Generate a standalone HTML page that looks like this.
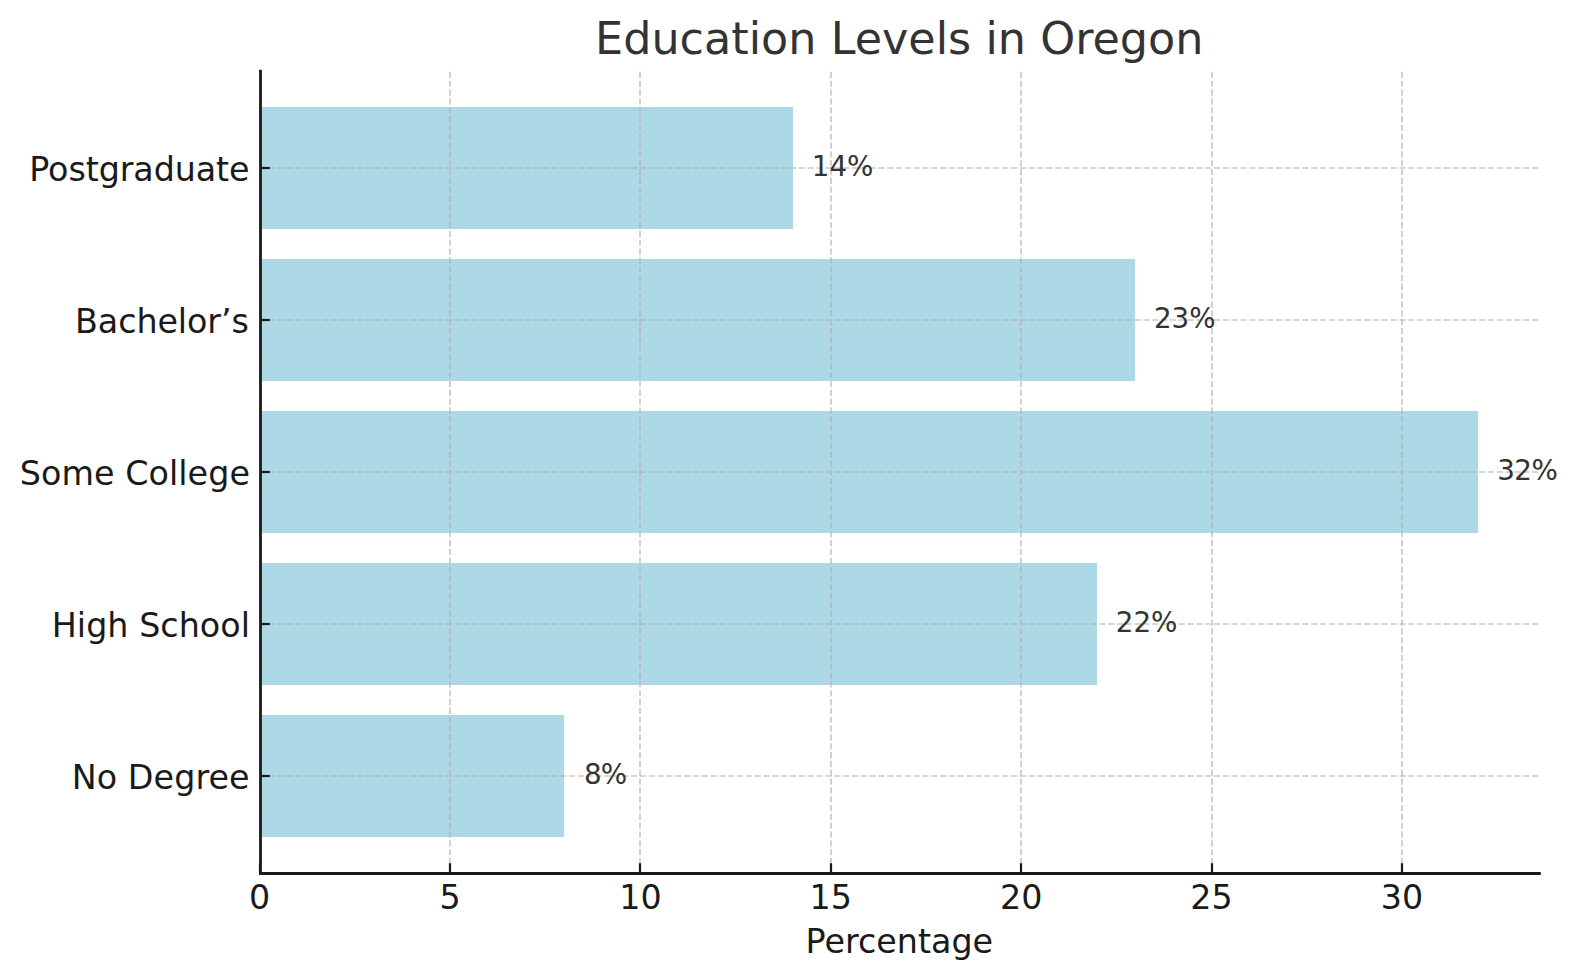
<!DOCTYPE html>
<html lang="en"><head><meta charset="utf-8"><title>Education Levels in Oregon</title>
<style>
html,body{margin:0;padding:0;background:#fff;}
body{width:1578px;height:980px;overflow:hidden;}
svg{display:block;}
text{font-family:"DejaVu Sans","Liberation Sans",sans-serif;}
.tick{font-size:33.33px;fill:#1a1a1a;}
.val{font-size:27.78px;fill:#333333;}
.title{font-size:44.44px;fill:#333333;}
</style></head><body>
<svg width="1578" height="980" viewBox="0 0 1578 980">
<rect width="1578" height="980" fill="#ffffff"/>
<g fill="#add8e6" shape-rendering="crispEdges">
<rect x="260" y="715" width="304" height="122"/>
<rect x="260" y="563" width="837" height="122"/>
<rect x="260" y="411" width="1218" height="122"/>
<rect x="260" y="259" width="875" height="122"/>
<rect x="260" y="107" width="533" height="122"/>
</g>
<g stroke="#b0b0b0" stroke-opacity="0.7" stroke-width="1.67" stroke-dasharray="6.1667 2.6667" fill="none">
<path d="M260 873V71"/>
<path d="M450 873V71"/>
<path d="M640 873V71"/>
<path d="M831 873V71"/>
<path d="M1021 873V71"/>
<path d="M1212 873V71"/>
<path d="M1402 873V71"/>
<path d="M260 776H1539"/>
<path d="M260 624H1539"/>
<path d="M260 472H1539"/>
<path d="M260 320H1539"/>
<path d="M260 168H1539"/>
</g>
<g stroke="#1a1a1a" stroke-width="2.22" fill="none">
<path d="M260 873v-9.72"/>
<path d="M450 873v-9.72"/>
<path d="M640 873v-9.72"/>
<path d="M831 873v-9.72"/>
<path d="M1021 873v-9.72"/>
<path d="M1212 873v-9.72"/>
<path d="M1402 873v-9.72"/>
<path d="M260 776h9.72"/>
<path d="M260 624h9.72"/>
<path d="M260 472h9.72"/>
<path d="M260 320h9.72"/>
<path d="M260 168h9.72"/>
</g>
<g stroke="#1a1a1a" stroke-width="2.78" fill="none" stroke-linecap="square">
<path d="M260.5 873.5V71.2"/>
<path d="M260.5 873.5H1539.4"/>
</g>
<g class="tick" text-anchor="middle">
<text x="259.70" y="908.6">0</text>
<text x="450.07" y="908.6">5</text>
<text x="640.45" y="908.6">10</text>
<text x="830.83" y="908.6">15</text>
<text x="1021.20" y="908.6">20</text>
<text x="1211.58" y="908.6">25</text>
<text x="1401.95" y="908.6">30</text>
</g>
<g class="tick" text-anchor="end">
<text x="249.60" y="789.00" textLength="177.92" lengthAdjust="spacing">No Degree</text>
<text x="250.00" y="637.00" textLength="198.24" lengthAdjust="spacing">High School</text>
<text x="249.90" y="485.00" textLength="230.17" lengthAdjust="spacing">Some College</text>
<text x="248.80" y="333.00" textLength="173.76" lengthAdjust="spacing">Bachelor’s</text>
<text x="249.60" y="181.00" textLength="220.35" lengthAdjust="spacing">Postgraduate</text>
</g>
<g class="val" text-anchor="start">
<text x="584.09" y="784.00" textLength="42.95" lengthAdjust="spacing">8%</text>
<text x="1115.79" y="632.00" textLength="61.72" lengthAdjust="spacing">22%</text>
<text x="1497.14" y="480.00" textLength="60.8" lengthAdjust="spacing">32%</text>
<text x="1153.96" y="328.00" textLength="61.72" lengthAdjust="spacing">23%</text>
<text x="811.79" y="176.00" textLength="61.72" lengthAdjust="spacing">14%</text>
</g>
<text class="tick" text-anchor="middle" x="899.36" y="952.7">Percentage</text>
<text class="title" text-anchor="middle" x="899.26" y="54.2" textLength="608.4" lengthAdjust="spacing">Education Levels in Oregon</text>
</svg></body></html>
